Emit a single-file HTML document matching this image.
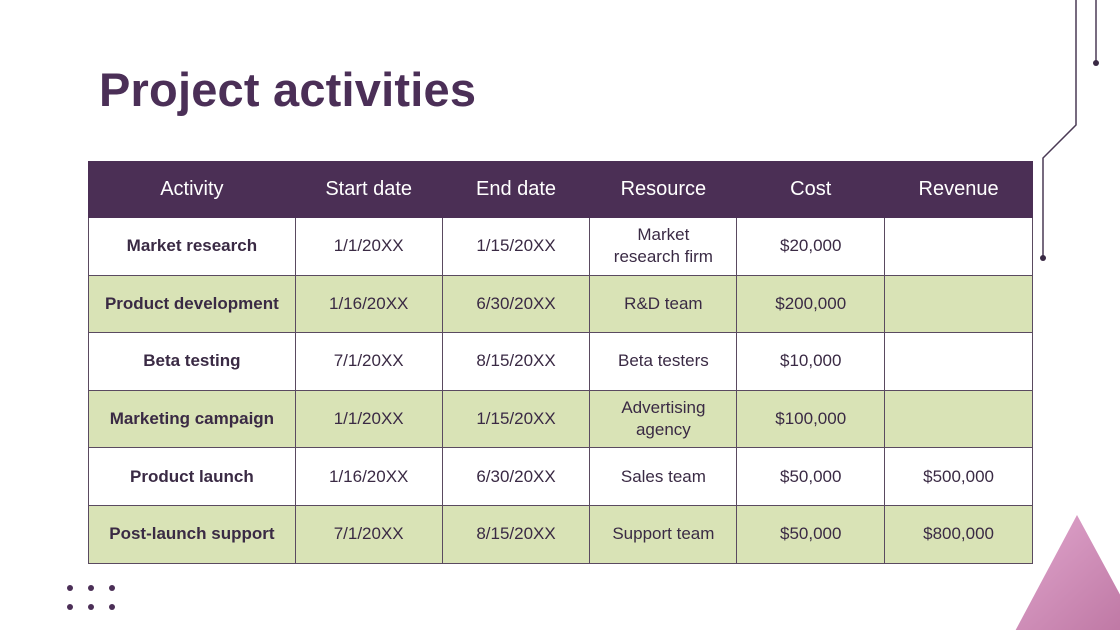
<!DOCTYPE html>
<html><head><style>
body{margin:0;width:1120px;height:630px;background:#fff;position:relative;overflow:hidden;font-family:"Liberation Sans",sans-serif;}
h1{position:absolute;left:99px;top:62px;margin:0;font-size:47px;font-weight:bold;color:#4b2f57;letter-spacing:0.2px;}
table{position:absolute;left:88px;top:161px;border-collapse:collapse;width:945px;}
td,th{border:1px solid #5a4a60;text-align:center;color:#3a2a44;font-size:17px;padding:0;}
th{background:#4b2f55;color:#fff;font-weight:normal;font-size:20px;height:55px;border-color:#4b2f55;}
td{height:56.6px;line-height:22px;}
td:first-child{font-weight:bold;}
tr.g td{background:#d9e3b6;}
</style></head><body>
<h1>Project activities</h1>
<table>
<colgroup><col style="width:207px"><col style="width:147px"><col style="width:148px"><col style="width:147px"><col style="width:148px"><col style="width:148px"></colgroup>
<tr><th>Activity</th><th>Start date</th><th>End date</th><th>Resource</th><th>Cost</th><th>Revenue</th></tr>
<tr><td>Market research</td><td>1/1/20XX</td><td>1/15/20XX</td><td>Market<br>research firm</td><td>$20,000</td><td></td></tr>
<tr class="g"><td>Product development</td><td>1/16/20XX</td><td>6/30/20XX</td><td>R&amp;D team</td><td>$200,000</td><td></td></tr>
<tr><td>Beta testing</td><td>7/1/20XX</td><td>8/15/20XX</td><td>Beta testers</td><td>$10,000</td><td></td></tr>
<tr class="g"><td>Marketing campaign</td><td>1/1/20XX</td><td>1/15/20XX</td><td>Advertising<br>agency</td><td>$100,000</td><td></td></tr>
<tr><td>Product launch</td><td>1/16/20XX</td><td>6/30/20XX</td><td>Sales team</td><td>$50,000</td><td>$500,000</td></tr>
<tr class="g"><td>Post-launch support</td><td>7/1/20XX</td><td>8/15/20XX</td><td>Support team</td><td>$50,000</td><td>$800,000</td></tr>
</table>
<svg width="1120" height="630" style="position:absolute;left:0;top:0">
<defs><linearGradient id="t" x1="0" y1="0" x2="1" y2="1"><stop offset="0" stop-color="#e2a8cf"/><stop offset="1" stop-color="#b86f9c"/></linearGradient></defs>
<polyline points="1076,0 1076,125 1043,158 1043,258" fill="none" stroke="#4a3a55" stroke-width="1.5"/>
<circle cx="1043" cy="258" r="3" fill="#3a2a44"/>
<line x1="1096" y1="0" x2="1096" y2="63" stroke="#4a3a55" stroke-width="1.5"/>
<circle cx="1096" cy="63" r="3" fill="#3a2a44"/>
<polygon points="1077,515 1150,650 1005,650" fill="url(#t)"/>
<g fill="#4b2f57"><circle cx="70" cy="588" r="3"/><circle cx="91" cy="588" r="3"/><circle cx="112" cy="588" r="3"/><circle cx="70" cy="607" r="3"/><circle cx="91" cy="607" r="3"/><circle cx="112" cy="607" r="3"/></g>
</svg>
</body></html>
